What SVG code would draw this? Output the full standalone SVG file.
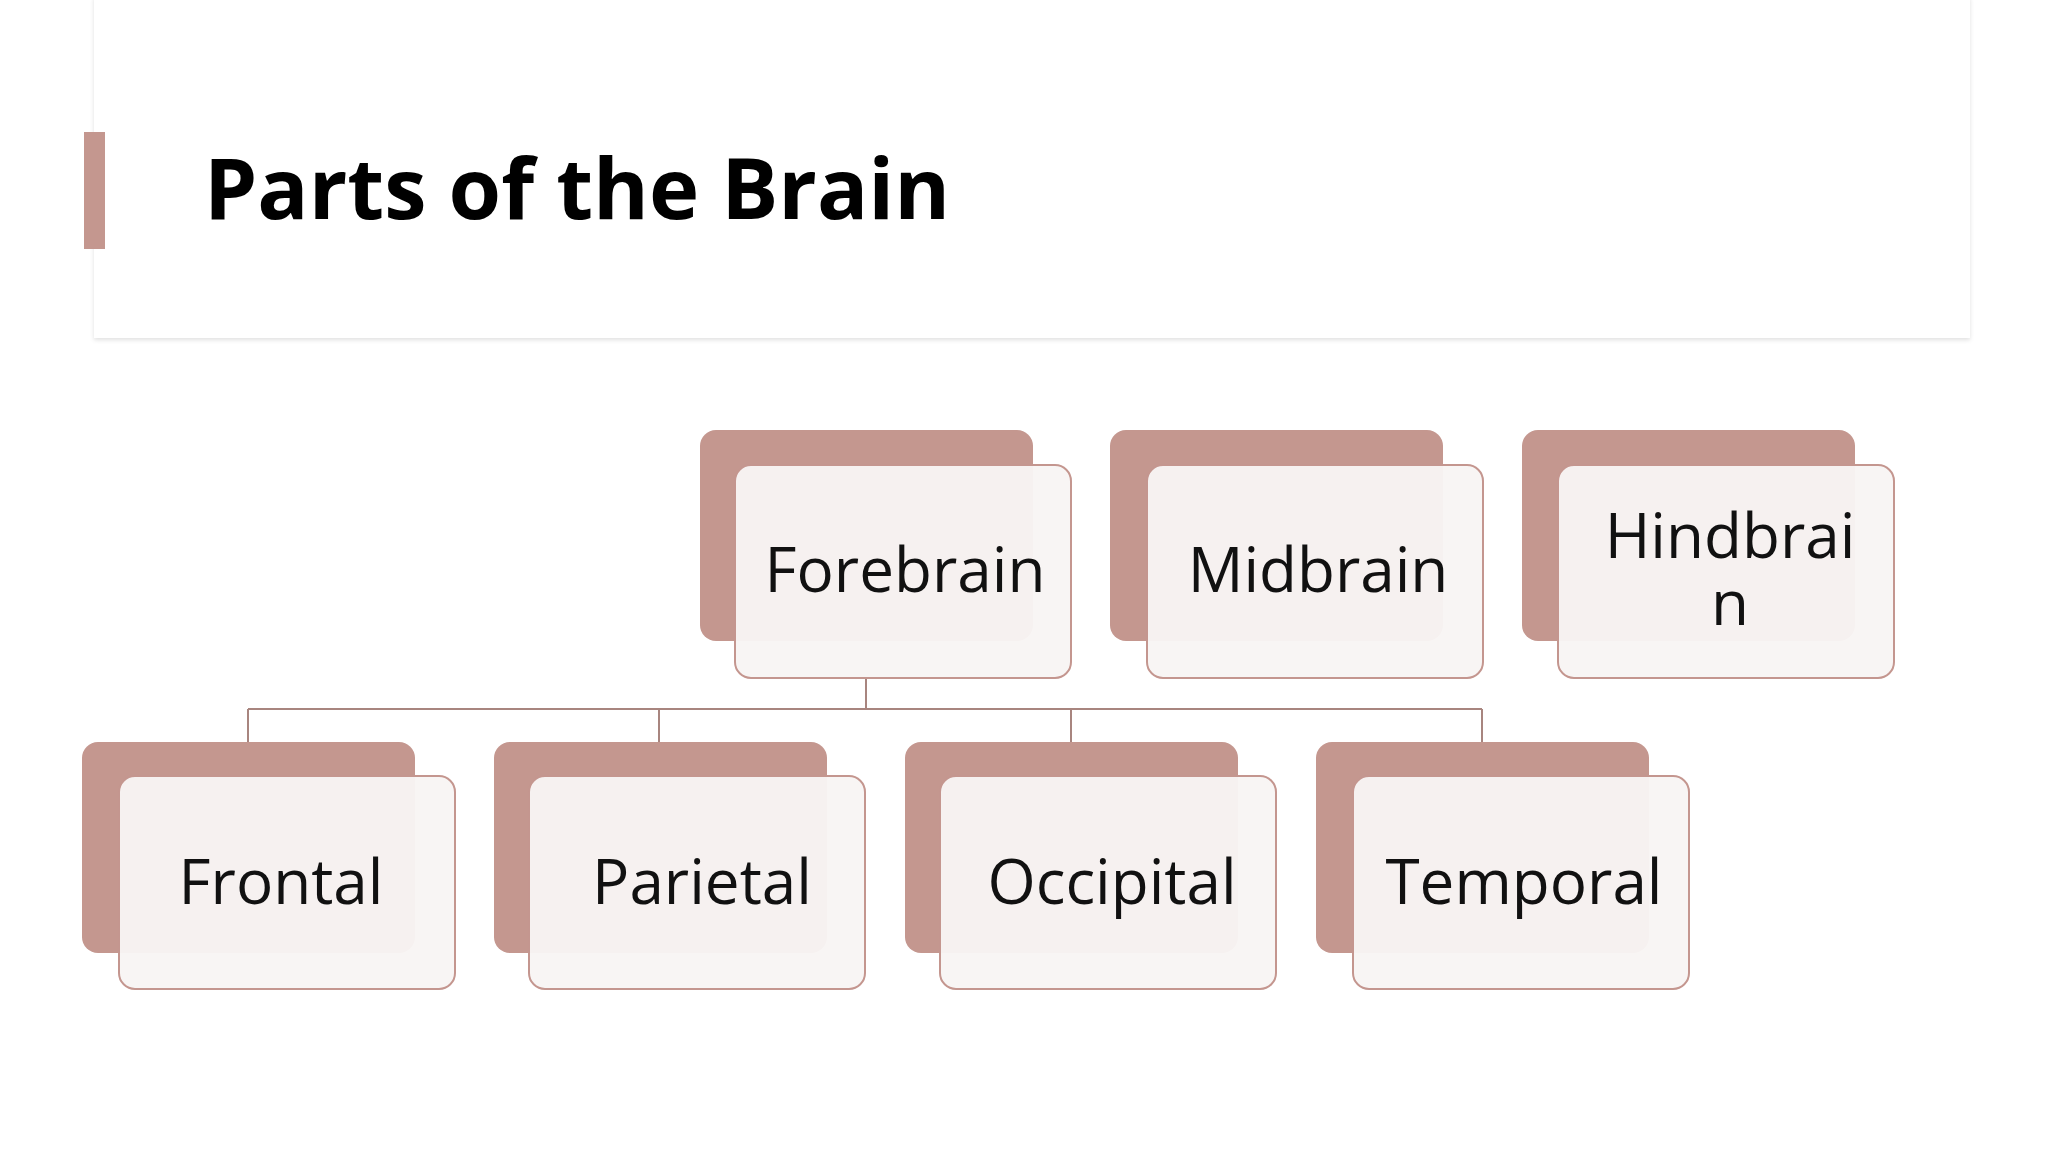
<svg xmlns="http://www.w3.org/2000/svg" width="2048" height="1152" viewBox="0 0 2048 1152">
<defs>
<filter id="sh" x="-5%" y="-5%" width="110%" height="115%"><feDropShadow dx="0" dy="2" stdDeviation="2" flood-color="#000" flood-opacity="0.12"/></filter>
</defs>
<style>
.back{fill:#c4978f}
.front{fill:#f8f5f4;fill-opacity:0.96;stroke:#c4968f;stroke-width:2}
.t{font-family:"Open Sans","Noto Sans",sans-serif;font-size:62px;fill:#111;text-anchor:middle}
.c{fill:none;stroke:#a8857f;stroke-width:2}
</style>
<rect width="2048" height="1152" fill="#fff"/>
<g id="header">
<rect x="94" y="-4" width="1876" height="342" fill="#fff" filter="url(#sh)"/>
<rect x="84" y="132" width="21" height="117" fill="#c4978f"/>
<text x="204" y="219" font-family="'Open Sans','Noto Sans',sans-serif" font-weight="bold" font-size="85" fill="#000">Parts of the Brain</text>
</g>
<g id="connectors">
<path class="c" d="M866 678V709M248 709H1482M248 709V742M659 709V742M1071 709V742M1482 709V742"/>
</g>
<g id="forebrain"><rect class="back" x="700" y="430" width="333" height="211" rx="16"/><rect class="front" x="735" y="465" width="336" height="213" rx="16"/><text class="t" x="905" y="592">Forebrain</text></g>
<g id="midbrain"><rect class="back" x="1110" y="430" width="333" height="211" rx="16"/><rect class="front" x="1147" y="465" width="336" height="213" rx="16"/><text class="t" x="1318" y="592">Midbrain</text></g>
<g id="hindbrain"><rect class="back" x="1522" y="430" width="333" height="211" rx="16"/><rect class="front" x="1558" y="465" width="336" height="213" rx="16"/><text class="t" x="1730" y="558">Hindbrai</text><text class="t" x="1730" y="625">n</text></g>
<g id="frontal"><rect class="back" x="82" y="742" width="333" height="211" rx="16"/><rect class="front" x="119" y="776" width="336" height="213" rx="16"/><text class="t" x="281" y="904">Frontal</text></g>
<g id="parietal"><rect class="back" x="494" y="742" width="333" height="211" rx="16"/><rect class="front" x="529" y="776" width="336" height="213" rx="16"/><text class="t" x="702" y="904">Parietal</text></g>
<g id="occipital"><rect class="back" x="905" y="742" width="333" height="211" rx="16"/><rect class="front" x="940" y="776" width="336" height="213" rx="16"/><text class="t" x="1112" y="904">Occipital</text></g>
<g id="temporal"><rect class="back" x="1316" y="742" width="333" height="211" rx="16"/><rect class="front" x="1353" y="776" width="336" height="213" rx="16"/><text class="t" x="1524" y="904">Temporal</text></g>
</svg>
